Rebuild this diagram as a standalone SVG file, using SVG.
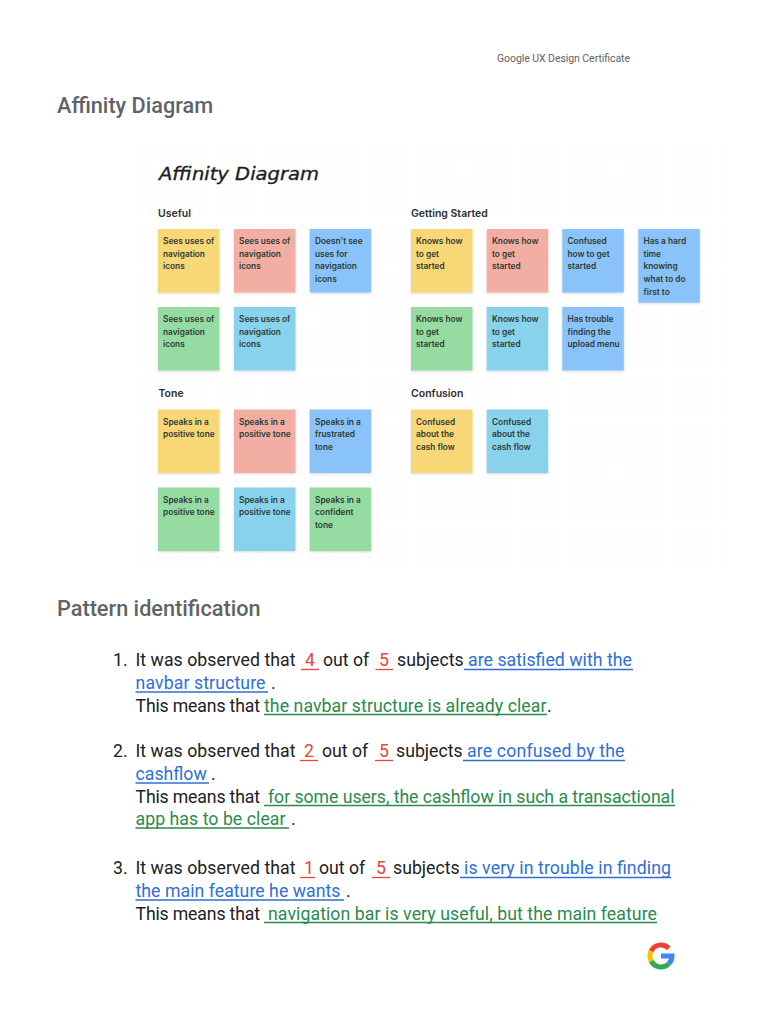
<svg xmlns="http://www.w3.org/2000/svg" width="768" height="1024" viewBox="0 0 768 1024">
<style>
.h{font:500 21.700px Roboto,"Liberation Sans",sans-serif;fill:#5f6368}
.g{font:600 10.500px Inter,"Liberation Sans",sans-serif;fill:#2b2f33}
.c text{font:600 8.300px Inter,"Liberation Sans",sans-serif;fill:#2d3a35}
.b{font:400 17.700px Roboto,"Liberation Sans",sans-serif;fill:#202124}
.r{fill:#e8453c}.u{fill:#2f6fd6}.v{fill:#2a8a4e}
.lr{stroke:#e8453c}.lu{stroke:#2f6fd6}.lv{stroke:#2a8a4e}
#underlines line{stroke-width:1.3}
.y{fill:#f8d776}.p{fill:#f3aea3}.bl{fill:#8ac3f9}.gr{fill:#96dca2}.cy{fill:#89d2ec}
.c rect{filter:url(#s)}
</style>
<defs>
<pattern id="dots" width="9.500" height="9.500" patternUnits="userSpaceOnUse" x="139" y="147"><circle cx="2" cy="2" r=".75" fill="#ececec"/></pattern>
<filter id="s" x="-10%" y="-10%" width="120%" height="120%"><feDropShadow dx="0" dy="1" stdDeviation=".8" flood-color="#000" flood-opacity=".16"/></filter>
</defs>
<rect width="768" height="1024" fill="#fff"/>
<text x="497" y="62" font-family="Roboto,'Liberation Sans',sans-serif" font-size="10.500" fill="#5f6368" textLength="133">Google UX Design Certificate</text>
<text class="h" x="57" y="113">Affinity Diagram</text>
<rect x="138" y="146" width="585" height="424" fill="url(#dots)"/>
<text x="159" y="180" font-family="'DejaVu Sans',sans-serif" font-style="italic" font-size="18" fill="#1d1d1d" stroke="#1d1d1d" stroke-width=".35" textLength="160" lengthAdjust="spacingAndGlyphs">Affinity Diagram</text>
<text class="g" x="158" y="216.500">Useful</text>
<text class="g" x="411" y="216.500">Getting Started</text>
<text class="g" x="158.500" y="397">Tone</text>
<text class="g" x="411" y="397">Confusion</text>

<g id="u1" class="c"><rect class="y" x="158" y="229" width="61.500" height="63.500"/><text x="163" y="244">Sees uses of</text><text x="163" y="256.700">navigation</text><text x="163" y="269.400">icons</text></g>
<g id="u2" class="c"><rect class="p" x="234" y="229" width="61.500" height="63.500"/><text x="239" y="244">Sees uses of</text><text x="239" y="256.700">navigation</text><text x="239" y="269.400">icons</text></g>
<g id="u3" class="c"><rect class="bl" x="309.700" y="229" width="61.500" height="63.500"/><text x="315" y="244">Doesn't see</text><text x="315" y="256.700">uses for</text><text x="315" y="269.400">navigation</text><text x="315" y="282">icons</text></g>
<g id="u4" class="c"><rect class="gr" x="158" y="307" width="61.500" height="63.500"/><text x="163" y="322">Sees uses of</text><text x="163" y="334.700">navigation</text><text x="163" y="347.400">icons</text></g>
<g id="u5" class="c"><rect class="cy" x="234" y="307" width="61.500" height="63.500"/><text x="239" y="322">Sees uses of</text><text x="239" y="334.700">navigation</text><text x="239" y="347.400">icons</text></g>

<g id="s1" class="c"><rect class="y" x="411" y="229" width="61.500" height="63.500"/><text x="416" y="244">Knows how</text><text x="416" y="256.700">to get</text><text x="416" y="269.400">started</text></g>
<g id="s2" class="c"><rect class="p" x="486.700" y="229" width="61.500" height="63.500"/><text x="492" y="244">Knows how</text><text x="492" y="256.700">to get</text><text x="492" y="269.400">started</text></g>
<g id="s3" class="c"><rect class="bl" x="562.300" y="229" width="61.500" height="63.500"/><text x="567.500" y="244">Confused</text><text x="567.500" y="256.700">how to get</text><text x="567.500" y="269.400">started</text></g>
<g id="s4" class="c"><rect class="bl" x="638.300" y="229" width="61.500" height="73.700"/><text x="643.500" y="244">Has a hard</text><text x="643.500" y="256.700">time</text><text x="643.500" y="269.400">knowing</text><text x="643.500" y="282">what to do</text><text x="643.500" y="294.700">first to</text></g>
<g id="s5" class="c"><rect class="gr" x="411" y="307" width="61.500" height="63.500"/><text x="416" y="322">Knows how</text><text x="416" y="334.700">to get</text><text x="416" y="347.400">started</text></g>
<g id="s6" class="c"><rect class="cy" x="486.700" y="307" width="61.500" height="63.500"/><text x="492" y="322">Knows how</text><text x="492" y="334.700">to get</text><text x="492" y="347.400">started</text></g>
<g id="s7" class="c"><rect class="bl" x="562.300" y="307" width="61.500" height="63.500"/><text x="567.500" y="322">Has trouble</text><text x="567.500" y="334.700">finding the</text><text x="567.500" y="347.400">upload menu</text></g>

<g id="t1" class="c"><rect class="y" x="158" y="409.500" width="61.500" height="63.500"/><text x="163" y="424.500">Speaks in a</text><text x="163" y="437.200">positive tone</text></g>
<g id="t2" class="c"><rect class="p" x="234" y="409.500" width="61.500" height="63.500"/><text x="239" y="424.500">Speaks in a</text><text x="239" y="437.200">positive tone</text></g>
<g id="t3" class="c"><rect class="bl" x="309.700" y="409.500" width="61.500" height="63.500"/><text x="315" y="424.500">Speaks in a</text><text x="315" y="437.200">frustrated</text><text x="315" y="449.900">tone</text></g>
<g id="t4" class="c"><rect class="gr" x="158" y="487.500" width="61.500" height="63.500"/><text x="163" y="502.500">Speaks in a</text><text x="163" y="515.200">positive tone</text></g>
<g id="t5" class="c"><rect class="cy" x="234" y="487.500" width="61.500" height="63.500"/><text x="239" y="502.500">Speaks in a</text><text x="239" y="515.200">positive tone</text></g>
<g id="t6" class="c"><rect class="gr" x="309.700" y="487.500" width="61.500" height="63.500"/><text x="315" y="502.500">Speaks in a</text><text x="315" y="515.200">confident</text><text x="315" y="527.900">tone</text></g>

<g id="c1" class="c"><rect class="y" x="411" y="409.500" width="61.500" height="63.500"/><text x="416" y="424.500">Confused</text><text x="416" y="437.200">about the</text><text x="416" y="449.900">cash flow</text></g>
<g id="c2" class="c"><rect class="cy" x="486.700" y="409.500" width="61.500" height="63.500"/><text x="492" y="424.500">Confused</text><text x="492" y="437.200">about the</text><text x="492" y="449.900">cash flow</text></g>

<text class="h" x="57" y="616">Pattern identification</text>

<g id="underlines">
<line class="lr" x1="301" x2="319" y1="669.500" y2="669.500"/><line class="lr" x1="375.500" x2="393" y1="669.500" y2="669.500"/><line class="lu" x1="464" x2="633" y1="669.500" y2="669.500"/><line class="lu" x1="135.500" x2="268" y1="692" y2="692"/><line class="lv" x1="264" x2="547" y1="714.500" y2="714.500"/>
<line class="lr" x1="300" x2="318" y1="760.500" y2="760.500"/><line class="lr" x1="375" x2="393" y1="760.500" y2="760.500"/><line class="lu" x1="463" x2="625" y1="760.500" y2="760.500"/><line class="lu" x1="135.500" x2="209" y1="783" y2="783"/><line class="lv" x1="264" x2="675" y1="805.500" y2="805.500"/><line class="lv" x1="135.500" x2="289" y1="828" y2="828"/>
<line class="lr" x1="300" x2="315" y1="877.500" y2="877.500"/><line class="lr" x1="372" x2="390" y1="877.500" y2="877.500"/><line class="lu" x1="460" x2="671" y1="877.500" y2="877.500"/><line class="lu" x1="135.500" x2="344" y1="900" y2="900"/><line class="lv" x1="264" x2="657" y1="922.500" y2="922.500"/>
</g>

<g id="list">
<text class="b" x="113" y="666">1.</text><text class="b" x="135.500" y="666" textLength="160">It was observed that</text><text class="b r" x="305" y="666">4</text><text class="b" x="323" y="666">out of</text><text class="b r" x="379" y="666">5</text><text class="b" x="397" y="666">subjects</text><text class="b u" x="468" y="666" textLength="164">are satisfied with the</text>
<text class="b u" x="135.500" y="689" textLength="130">navbar structure</text><text class="b" x="271" y="689">.</text>
<text class="b" x="135.500" y="711.500" textLength="124.500">This means that</text><text class="b v" x="264" y="711.500" textLength="282.500">the navbar structure is already clear</text><text class="b" x="547" y="711.500">.</text>

<text class="b" x="113" y="757">2.</text><text class="b" x="135.500" y="757" textLength="160">It was observed that</text><text class="b r" x="304" y="757">2</text><text class="b" x="322" y="757">out of</text><text class="b r" x="379" y="757">5</text><text class="b" x="396" y="757">subjects</text><text class="b u" x="467" y="757" textLength="157.500">are confused by the</text>
<text class="b u" x="135.500" y="780">cashflow</text><text class="b" x="211" y="780">.</text>
<text class="b" x="135.500" y="802.500" textLength="124.500">This means that</text><text class="b v" x="268" y="802.500" textLength="406.500">for some users, the cashflow in such a transactional</text>
<text class="b v" x="135.500" y="825" textLength="150">app has to be clear</text><text class="b" x="291" y="825">.</text>

<text class="b" x="113" y="874">3.</text><text class="b" x="135.500" y="874" textLength="160">It was observed that</text><text class="b r" x="304" y="874">1</text><text class="b" x="319" y="874">out of</text><text class="b r" x="376" y="874">5</text><text class="b" x="393" y="874">subjects</text><text class="b u" x="464" y="874" textLength="207">is very in trouble in finding</text>
<text class="b u" x="135.500" y="897" textLength="205">the main feature he wants</text><text class="b" x="346" y="897">.</text>
<text class="b" x="135.500" y="919.500" textLength="124.500">This means that</text><text class="b v" x="268" y="919.500" textLength="389">navigation bar is very useful, but the main feature</text>
</g>

<g id="google-logo" fill="none" stroke-width="5">
<path d="M661 956H672A11 11 0 0 1 668.800 963.800" stroke="#4285f4"/>
<path d="M668.800 963.800A11 11 0 0 1 651.200 961" stroke="#34a853"/>
<path d="M651.200 961A11 11 0 0 1 651.200 951" stroke="#fbbc05"/>
<path d="M651.200 951A11 11 0 0 1 668.800 948.200" stroke="#ea4335"/>
</g>
</svg>
